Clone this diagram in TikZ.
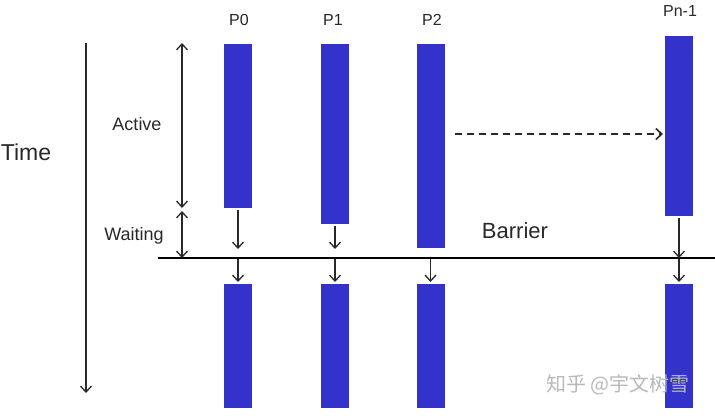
\documentclass[tikz,border=0pt]{standalone}
\usepackage{fontspec}
\setmainfont{Liberation Sans}
\newfontfamily\cjk{Noto Sans CJK SC}
\usetikzlibrary{arrows.meta,shadows}
\definecolor{barblue}{RGB}{51,51,204}
\definecolor{ink}{RGB}{40,40,40}
\tikzset{
  bar/.style={rectangle, fill=barblue, draw=white, line width=2pt, inner sep=0pt,
    minimum width=30pt,
    drop shadow={opacity=0.25, shadow xshift=0.8pt, shadow yshift=-1pt}},
  plabel/.style={text=ink, font=\fontsize{16}{18}\selectfont, inner sep=0pt},
  tlabel/.style={text=ink, font=\fontsize{18}{20}\selectfont, inner sep=0pt},
  flow/.style={draw=ink, line width=1.3pt, -{Straight Barb[length=6pt,width=11pt]}},
  span/.style={flow, {Straight Barb[length=6pt,width=11pt]}-{Straight Barb[length=6pt,width=11pt]}},
}
\begin{document}
\begin{tikzpicture}[x=1pt, y=-1pt]
    \useasboundingbox (0,0) rectangle (715,418);

    % processes before the barrier
    \node[bar, minimum height=166pt] (p0top) at (238,126) {};
    \node[bar, minimum height=182pt] (p1top) at (335,134) {};
    \node[bar, minimum height=206pt] (p2top) at (430.5,146) {};
    \node[bar, minimum height=182pt] (pntop) at (679,126) {};

    % processes after the barrier
    \node[bar, minimum height=126pt] (p0bot) at (238,346) {};
    \node[bar, minimum height=126pt] (p1bot) at (335,346) {};
    \node[bar, minimum height=126pt] (p2bot) at (430.5,346) {};
    \node[bar, minimum height=126pt] (pnbot) at (679,346) {};

    % process names
    \node[plabel] (lp0) at (239,20) {P0};
    \node[plabel] (lp1) at (333,20) {P1};
    \node[plabel] (lp2) at (432,20) {P2};
    \node[plabel] (lpn) at (680,11) {Pn-1};

    % time axis
    \coordinate (t0) at (86,43);
    \coordinate (t1) at (86,393);
    \draw[flow] (t0) -- (t1);
    \node[text=ink, font=\fontsize{23}{26}\selectfont, inner sep=0pt] (time) at (26,152) {Time};

    % barrier
    \coordinate (bl) at (158,258);
    \coordinate (br) at (715,258);
    \draw[line width=2.8pt] (bl) -- (br);
    \node[text=ink, font=\fontsize{22}{24}\selectfont, inner sep=0pt] (barrier) at (515,231) {Barrier};

    % active and waiting spans
    \coordinate (a0) at (182,43);
    \coordinate (a1) at (182,208);
    \coordinate (w0) at (182,211);
    \coordinate (w1) at (182,258);
    \draw[span] (a0) -- (a1);
    \draw[span] (w0) -- (w1);
    \node[tlabel] (active) at (137,124) {Active};
    \node[tlabel] (waiting) at (134,236) {Waiting};

    % arrival at the barrier
    \coordinate (e0) at (238,249);
    \coordinate (e1) at (335,249);
    \coordinate (en) at (679,258);
    \draw[flow] (p0top) -- (e0);
    \draw[flow] (p1top) -- (e1);
    \draw[flow] (pntop) -- (en);

    % release from the barrier
    \coordinate (r0) at (238,259);
    \coordinate (r1) at (335,259);
    \coordinate (r2) at (430.5,259);
    \coordinate (rn) at (679,259);
    \draw[flow] (r0) -- (p0bot);
    \draw[flow] (r1) -- (p1bot);
    \draw[flow] (r2) -- (p2bot);
    \draw[flow] (rn) -- (pnbot);

    % message from P2 to Pn-1
    \coordinate (d0) at (455,134);
    \draw[flow, line width=1.6pt, dash pattern=on 7pt off 5pt] (d0) -- (pntop.west |- d0);

    \node[text=black!28, font=\cjk\fontsize{20}{22}\selectfont, inner sep=0pt] (mark) at (618,385) {知乎 @宇文树雪};
\end{tikzpicture}
\end{document}
